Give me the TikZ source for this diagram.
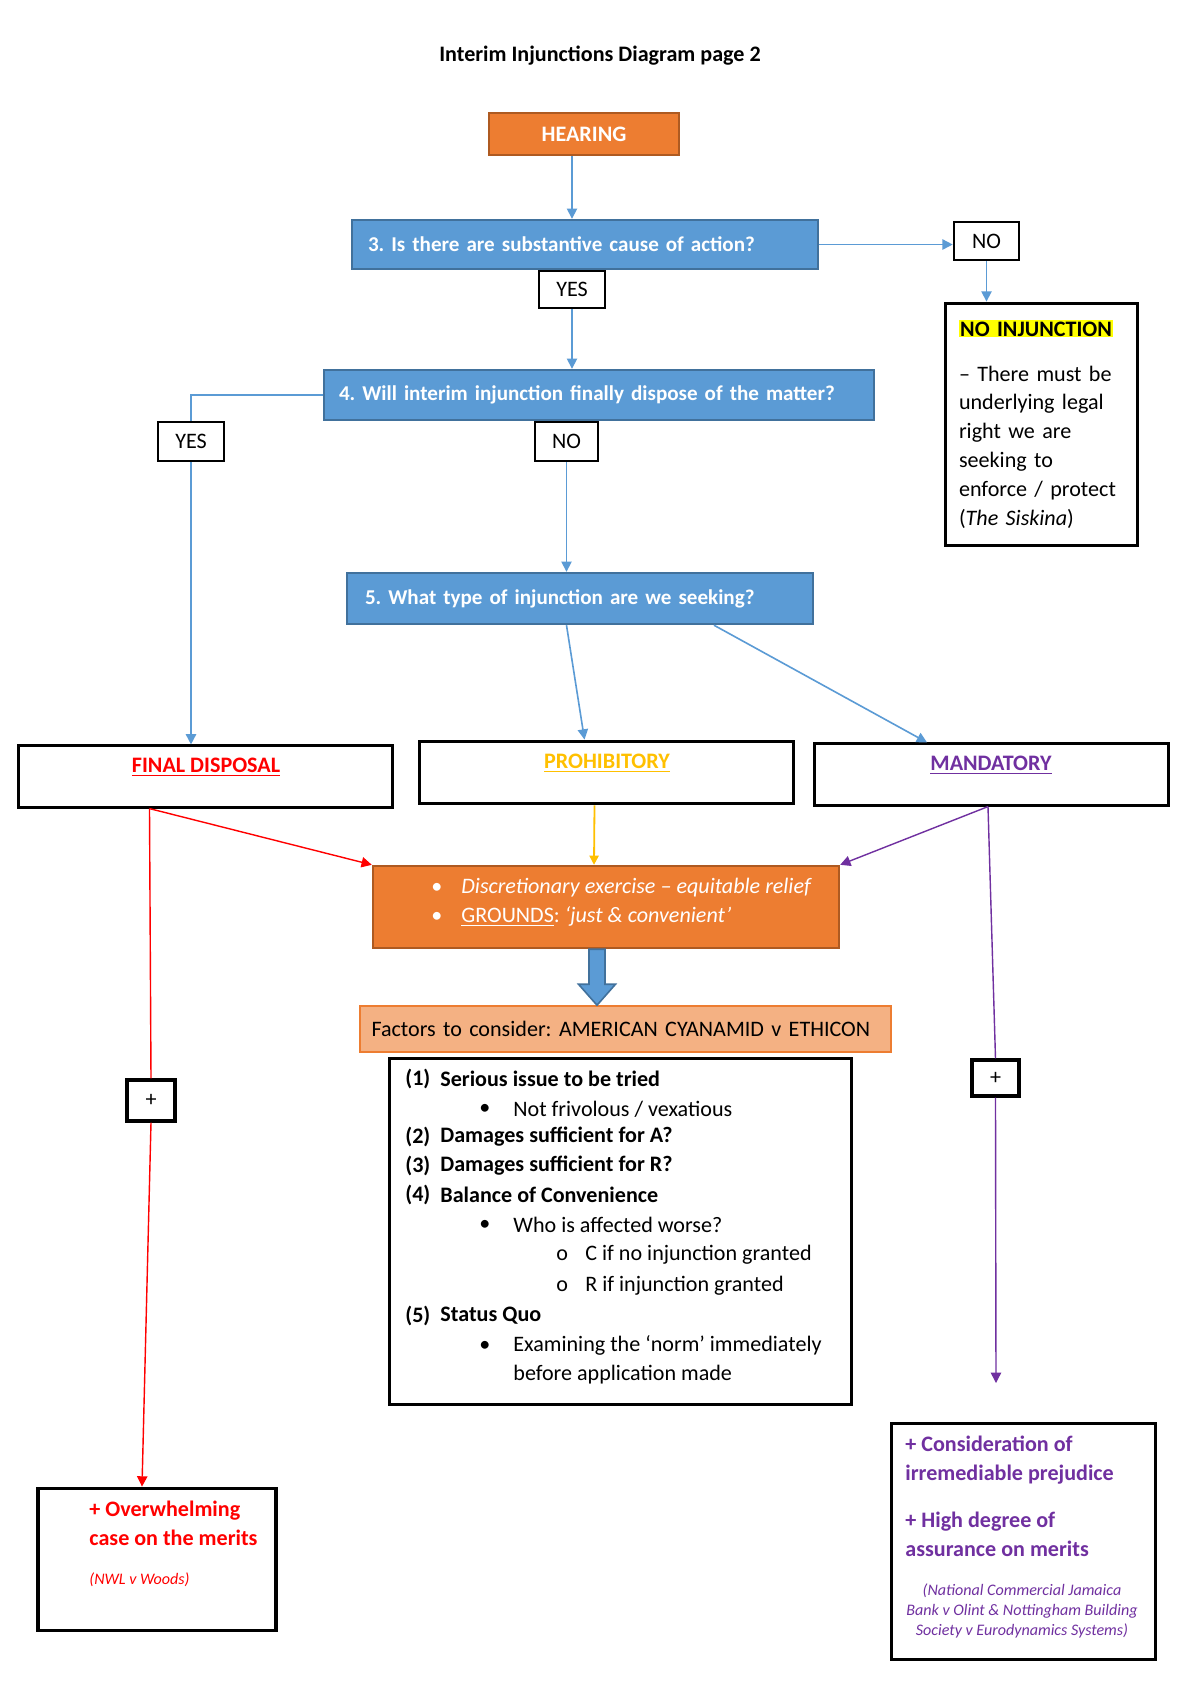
\documentclass[tikz,border=0pt]{standalone}
\usepackage{fontspec}
\setmainfont{Carlito}
\frenchspacing
\usetikzlibrary{
  arrows.meta,
  calc,
  positioning
}
\definecolor{qFill}{RGB}{91,155,213}
\definecolor{qStroke}{RGB}{65,113,156}
\definecolor{hearFill}{RGB}{237,125,49}
\definecolor{hearStroke}{RGB}{174,90,33}
\definecolor{factFill}{RGB}{244,177,131}
\definecolor{factStroke}{RGB}{237,125,49}
\definecolor{linkBlue}{RGB}{91,155,213}
\definecolor{finalRed}{RGB}{255,0,0}
\definecolor{prohibGold}{RGB}{255,192,0}
\definecolor{mandPurple}{RGB}{112,48,160}
\definecolor{markYellow}{RGB}{255,255,0}
\newcommand{\hilite}[1]{{\setlength{\fboxsep}{0.6pt}\colorbox{markYellow}{#1}}}
\tikzset{
  >={Triangle[length=1.8mm,width=1.8mm]},
  link/.style={-{Triangle[length=1.8mm,width=1.8mm]}, draw=linkBlue, line width=0.8pt},
  connector/.style={draw=linkBlue, line width=0.8pt},
  redlink/.style={-{Triangle[length=1.8mm,width=1.8mm]}, draw=finalRed, line width=0.7pt},
  redline/.style={draw=finalRed, line width=0.7pt},
  goldlink/.style={-{Triangle[length=1.6mm,width=1.6mm]}, draw=prohibGold, line width=0.9pt},
  purplink/.style={-{Triangle[length=1.8mm,width=1.8mm]}, draw=mandPurple, line width=0.7pt},
  purpline/.style={draw=mandPurple, line width=0.7pt},
  qbox/.style={
    draw=qStroke,
    fill=qFill,
    line width=1.2pt,
    text=white,
    align=left,
    inner ysep=0pt,
    font=\fontsize{10.5}{14}\selectfont\bfseries
  },
  orangebox/.style={
    draw=hearStroke,
    fill=hearFill,
    line width=1.2pt,
    text=white,
    inner sep=0pt,
    font=\fontsize{11}{14.4}\selectfont\bfseries
  },
  factbox/.style={
    draw=factStroke,
    fill=factFill,
    line width=0.8pt,
    align=left,
    inner ysep=0pt,
    font=\fontsize{11}{14.4}\selectfont
  },
  blackbox/.style={draw=black, fill=white, line width=1.5pt},
  tagbox/.style={
    draw=black,
    fill=white,
    line width=1.3pt,
    inner sep=0pt,
    font=\fontsize{11}{14.4}\selectfont
  },
  body/.style={font=\fontsize{11}{14.4}\selectfont, inner sep=0pt},
  bodybold/.style={font=\fontsize{11}{14.4}\selectfont\bfseries, inner sep=0pt},
  citation/.style={font=\fontsize{8}{10}\selectfont\itshape, inner sep=0pt, align=center},
  blockarrow/.style={draw=qStroke, fill=qFill, line width=0.8pt}
}

\begin{document}
\begin{tikzpicture}[x=0.175mm,y=-0.175mm]
  \fill[white] (0,0) rectangle (1200,1696);
  \useasboundingbox (0,0) rectangle (1200,1696);

  \node[bodybold] (title) at (600,56) {Interim Injunctions Diagram page 2};

  % questions down the middle
  \node[orangebox, minimum width=33.25mm, minimum height=7.35mm] (hearing) at (584,134) {HEARING};
  \node[qbox, text width=75.95mm, inner xsep=2.8mm, minimum height=8.575mm] (q3) at (585,244.5) {3. Is there are substantive cause of action?};
  \node[tagbox, minimum width=11.55mm, minimum height=6.475mm] (yes1) at (572,289.5) {YES};
  \node[tagbox, minimum width=11.375mm, minimum height=6.65mm] (no1) at (986.5,241) {NO};
  \node[blackbox, body, minimum width=33.6mm, minimum height=42.5mm, text width=28.7mm, inner xsep=2.45mm, align=left] (noinj) at (1041,424.5)
    {\textbf{\hilite{NO INJUNCTION}}\\[8pt] – There must be\\ underlying legal\\ right we are\\ seeking to\\ enforce / protect\\ (\textit{The Siskina})};

  \node[qbox, text width=91mm, inner xsep=2.625mm, minimum height=8.75mm] (q4) at (599,395) {4. Will interim injunction finally dispose of the matter?};
  \node[tagbox, minimum width=11.55mm, minimum height=6.825mm] (yes2) at (191,441.5) {YES};
  \node[tagbox, minimum width=11.025mm, minimum height=6.825mm] (no2) at (566.5,441.5) {NO};

  \node[qbox, text width=75.25mm, inner xsep=3.15mm, minimum height=8.925mm] (q5) at (580,598.5) {5. What type of injunction are we seeking?};

  % the three kinds of injunction
  \node[blackbox, minimum width=65.6mm, minimum height=10.7mm] (final) at (205.5,776.5) {};
  \node[bodybold, text=finalRed] (finallab) at (206,767) {\underline{FINAL DISPOSAL}};
  \node[blackbox, minimum width=65.3mm, minimum height=11mm] (prohib) at (606.5,772.5) {};
  \node[bodybold, text=prohibGold] (prohiblab) at (607,763) {\underline{PROHIBITORY}};
  \node[blackbox, minimum width=61.95mm, minimum height=10.7mm] (mand) at (991,774.5) {};
  \node[bodybold, text=mandPurple] (mandlab) at (991,765) {\underline{MANDATORY}};

  \node[orangebox, minimum width=81.55mm, minimum height=14.35mm] (grounds) at (606,907) {};
  \node[body, text=white, anchor=west] (gbul1) at (431,888) {\textbullet};
  \node[body, text=white, anchor=west] (gtxt1) at (461,888) {\textit{Discretionary exercise – equitable relief}};
  \node[body, text=white, anchor=west] (gbul2) at (431,917) {\textbullet};
  \node[body, text=white, anchor=west] (gtxt2) at (461,917) {\underline{GROUNDS}: \textit{‘just \& convenient’}};

  \node[factbox, text width=88.9mm, inner xsep=2mm, minimum height=8.05mm] (factors) at (625.5,1029) {Factors to consider: AMERICAN CYANAMID v ETHICON};

  % American Cyanamid factors
  \node[blackbox, minimum width=80.7mm, minimum height=60.7mm] (list) at (620.5,1231.5) {};
  \foreach \y/\n/\t in {1079/1/Serious issue to be tried, 1137/2/Damages sufficient for A?, 1166/3/Damages sufficient for R?, 1195/4/Balance of Convenience, 1316/5/Status Quo}{
    \node[bodybold, anchor=west] (num\n) at (405,\y) {(\n)};
    \node[bodybold, anchor=west] (item\n) at (440,\y) {\t};
  }
  \node[body, anchor=west] (bul1) at (479,1109) {\textbullet};
  \node[body, anchor=west] (sub1) at (513,1109) {Not frivolous / vexatious};
  \node[body, anchor=west] (bul4) at (479,1225) {\textbullet};
  \node[body, anchor=west] (sub4) at (513,1225) {Who is affected worse?};
  \node[body, anchor=west] (dot4a) at (556,1255) {o};
  \node[body, anchor=west] (sub4a) at (585,1255) {C if no injunction granted};
  \node[body, anchor=west] (dot4b) at (556,1286) {o};
  \node[body, anchor=west] (sub4b) at (585,1286) {R if injunction granted};
  \node[body, anchor=west] (bul5) at (479,1346) {\textbullet};
  \node[body, anchor=west, align=left] (sub5) at (513,1360) {Examining the ‘norm’ immediately\\ before application made};

  % side branches
  \node[tagbox, line width=1.6pt, minimum width=8.4mm, minimum height=7.2mm] (plusL) at (151,1100.5) {+};
  \node[blackbox, minimum width=41.65mm, minimum height=25mm] (redbox) at (157,1559.5) {};
  \node[bodybold, text=finalRed, anchor=west, align=left] (redtxt) at (89,1523) {+ Overwhelming\\ case on the merits};
  \node[citation, text=finalRed, anchor=west] (redcase) at (89,1580) {(NWL v Woods)};

  \node[tagbox, line width=1.6pt, minimum width=8.2mm, minimum height=6.3mm] (plusR) at (995.5,1078) {+};
  \coordinate (mandend) at (996,1383);
  \node[blackbox, minimum width=46.2mm, minimum height=41.3mm] (purpbox) at (1023,1541) {};
  \node[bodybold, text=mandPurple, anchor=west, align=left] (purptxt1) at (905,1460) {+ Consideration of\\ irremediable prejudice};
  \node[bodybold, text=mandPurple, anchor=west, align=left] (purptxt2) at (905,1534) {+ High degree of\\ assurance on merits};
  \node[citation, text=mandPurple] (purpcase) at (1022,1611) {(National Commercial Jamaica\\ Bank v Olint \& Nottingham Building\\ Society v Eurodynamics Systems)};

  % connectors
  \draw[link] (hearing.south -| yes1.center) -- (q3.north -| yes1.center);
  \draw[link] (q3.east) -- (q3.east -| no1.west);
  \draw[link] (no1.south) -- (no1.south |- noinj.north);
  \draw[link] (yes1.south) -- (yes1.south |- q4.north);
  \draw[connector] (q4.west) -| (yes2.north);
  \draw[link] (yes2.south) -- (yes2.south |- final.north);
  \draw[link] (no2.south) -- (no2.south |- q5.north);
  \draw[link] (q5.south -| no2.south) -- ($(prohib.north)+(-22,0)$);
  \draw[link] ($(q5.south)+(134,0)$) -- ($(mand.north)+(-64,0)$);

  \coordinate (finalfoot) at ($(final.south)+(-56,0)$);
  \draw[redlink] (finalfoot) -- (grounds.north west);
  \draw[goldlink] ($(prohib.south)+(-12,0)$) -- ($(grounds.north)+(-12,0)$);
  \draw[purplink] ($(mand.south)+(-3,0)$) -- (grounds.north east);

  \draw[blockarrow] ($(grounds.south)+(-17,0)$) -- ++(0,35) -- ++(-10.5,0) -- ++(18.5,21) -- ++(18.5,-21) -- ++(-10.5,0) -- ++(0,-35) -- cycle;

  \draw[redline] (finalfoot) -- (plusL.north);
  \draw[redlink] (plusL.south) -- ($(redbox.north)+(-15,0)$);
  \draw[purpline] ($(mand.south)+(-3,0)$) -- (plusR.north);
  \draw[purplink] (plusR.south) -- (mandend);
\end{tikzpicture}
\end{document}
